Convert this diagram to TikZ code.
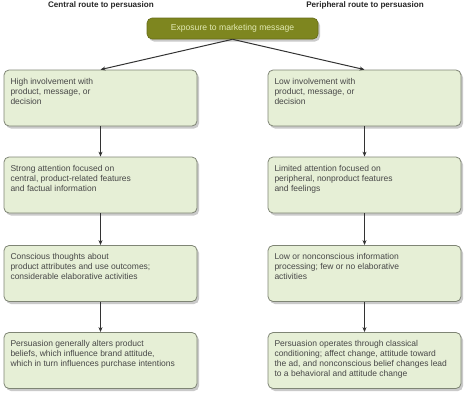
\documentclass[tikz,border=0pt]{standalone}
\usepackage{fontspec}
\setmainfont{Liberation Sans}
\usetikzlibrary{shadows,arrows.meta}
\definecolor{olive}{HTML}{7E861F}
\definecolor{olivetext}{HTML}{E2EAB4}
\definecolor{boxfill}{HTML}{E6EFD6}
\definecolor{boxline}{HTML}{7F8575}
\definecolor{arrowc}{HTML}{333333}
\newcommand{\boxtext}[1]{\parbox[c][40pt][t]{180pt}{\raggedright #1}}
\begin{document}
\begin{tikzpicture}[x=1pt,y=-1pt,
  stagebox/.style={draw=boxline, line width=0.8pt, fill=boxfill, rounded corners=5pt,
    minimum width=191pt, minimum height=56pt, inner xsep=6.5pt, inner ysep=8pt,
    font=\fontsize{8.5}{10}\selectfont, text=black!72,
    drop shadow={shadow xshift=2pt, shadow yshift=-2.5pt, opacity=0.35, fill=black!60}},
  topbox/.style={draw=olive!80!black, line width=0.6pt, fill=olive, rounded corners=5pt,
    minimum width=171pt, minimum height=21pt, inner sep=0pt,
    font=\fontsize{8.6}{10}\selectfont, text=olivetext,
    drop shadow={shadow xshift=2pt, shadow yshift=-2.5pt, opacity=0.35, fill=black!60}},
  title/.style={font=\bfseries\fontsize{8.1}{9}\selectfont, text=black!85, inner sep=0pt},
  conn/.style={draw=arrowc, line width=1pt, -{Stealth[length=5pt,width=4pt]}}]
\useasboundingbox (0,0) rectangle (474,402);

\node[title] (tl) at (101,5) {Central route to persuasion};
\node[title] (tr) at (365,5) {Peripheral route to persuasion};

\node[topbox] (top) at (232.5,28.5) {Exposure to marketing message};

\node[stagebox] (l1) at (100.5,98) {\boxtext{High involvement with\\product, message, or\\decision}};
\node[stagebox] (l2) at (100.5,185) {\boxtext{Strong attention focused on\\central, product-related features\\and factual information}};
\node[stagebox] (l3) at (100.5,273.5) {\boxtext{Conscious thoughts about\\product attributes and use outcomes;\\considerable elaborative activities}};
\node[stagebox] (l4) at (100.5,360.5) {\boxtext{Persuasion generally alters product\\beliefs, which influence brand attitude,\\which in turn influences purchase intentions}};

\node[stagebox] (r1) at (364.5,98) {\boxtext{Low involvement with\\product, message, or\\decision}};
\node[stagebox] (r2) at (364.5,185) {\boxtext{Limited attention focused on\\peripheral, nonproduct features\\and feelings}};
\node[stagebox] (r3) at (364.5,273.5) {\boxtext{Low or nonconscious information\\processing; few or no elaborative\\activities}};
\node[stagebox] (r4) at (364.5,360.5) {\boxtext{Persuasion operates through classical\\conditioning; affect change, attitude toward\\the ad, and nonconscious belief changes lead\\to a behavioral and attitude change}};

\draw[conn] (top.south) -- (l1.north);
\draw[conn] (top.south) -- (r1.north);
\draw[conn] (l1) -- (l2);
\draw[conn] (l2) -- (l3);
\draw[conn] (l3) -- (l4);
\draw[conn] (r1) -- (r2);
\draw[conn] (r2) -- (r3);
\draw[conn] (r3) -- (r4);
\end{tikzpicture}
\end{document}
